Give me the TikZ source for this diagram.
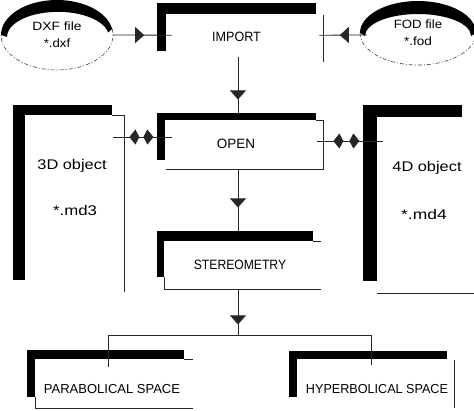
\documentclass[tikz,border=0pt]{standalone}
\usepackage{fontspec}
\setmainfont{Liberation Sans}
\usetikzlibrary{arrows.meta,decorations.markings,shapes.geometric,calc}
\begin{document}
\begin{tikzpicture}[x=1pt,y=-1pt,
  thinln/.style={line width=0.8pt, black!85},
  frame/.style={rectangle, draw=none, inner sep=0pt, anchor=north west},
  lbl/.style={inner sep=0pt, font=\fontsize{13.5}{15}\selectfont},
  splbl/.style={inner sep=0pt, font=\fontsize{13}{15}\selectfont},
  objlbl/.style={inner sep=0pt, font=\fontsize{14}{16}\selectfont},
  elli/.style={ellipse, draw=none, inner sep=0pt, align=center, font=\fontsize{12}{17}\selectfont},
  dashln/.style={line width=0.6pt, black!75, dash pattern=on 4pt off 2pt on 1pt off 2pt},
  >={Triangle[length=9pt,width=16pt]},
  fwd/.style={postaction={decorate}, decoration={markings, mark=at position #1 with {\arrow{>}}}},
  both/.style 2 args={postaction={decorate}, decoration={markings,
      mark=at position #1 with {\arrowreversed{Kite[length=10pt,width=15pt,inset=4pt]}},
      mark=at position #2 with {\arrow{Kite[length=10pt,width=15pt,inset=4pt]}}}}
]
\useasboundingbox (0,0) rectangle (474,410);
\clip (0,0) rectangle (474,410);
\fill[white] (0,0) rectangle (474,410);

% ---- ellipses
\node[elli, minimum width=112pt, minimum height=70pt] (dxf) at (57,35)
  {\scalebox{1.15}[1]{DXF file}\\\scalebox{1.1}[1]{*.dxf}};
\fill (1,35) arc[start angle=180,end angle=350,x radius=56,y radius=35]
  -- (108.2,32.5) arc[start angle=350,end angle=180,x radius=51,y radius=25] -- cycle;
\draw[dashln] (112.15,28.9) arc[start angle=-10,end angle=180,x radius=56,y radius=35];

\node[elli, minimum width=116pt, minimum height=64pt] (fod) at (418,33)
  {\scalebox{1.1}[1]{FOD file}\\\scalebox{1.13}[1]{*.fod}};
\fill (360,33) arc[start angle=180,end angle=360,x radius=58,y radius=32]
  -- (471,36) arc[start angle=360,end angle=180,x radius=53,y radius=22] -- cycle;
\draw[dashln] (360,33) arc[start angle=180,end angle=0,x radius=58,y radius=32];

% ---- IMPORT
\node[frame, minimum width=157pt, minimum height=48pt] (import) at (166,14) {};
\fill (157,3) rectangle (316,14);
\fill (157,3) rectangle (166,51);
\draw[thinln] (323,15) -- (323,62);
\node[lbl] (importlbl) at (236.5,37) {\scalebox{0.93}[1]{IMPORT}};

% ---- OPEN
\node[frame, minimum width=157pt, minimum height=49pt] (open) at (166,120) {};
\fill (157,113) rectangle (316,120);
\fill (157,113) rectangle (165,160);
\draw[thinln] (316,120) -- (323,120) -- (323,169) -- (166,169);
\node[lbl] (openlbl) at (236,144) {OPEN};

% ---- STEREOMETRY
\node[frame, minimum width=157pt, minimum height=48pt] (stereo) at (164,241) {};
\fill (157,231) rectangle (313,241);
\fill (157,231) rectangle (164,277);
\draw[thinln] (313,241) -- (321,241);
\draw[thinln] (164,277) -- (164,289) -- (321,289);
\node[lbl] (stereolbl) at (240,265) {\scalebox{0.9}[1]{STEREOMETRY}};

% ---- 3D object
\node[frame, minimum width=99pt, minimum height=177pt] (obj3) at (25,115) {};
\fill (13,105) rectangle (112,115);
\fill (13,105) rectangle (25,280);
\draw[thinln] (112,115) -- (124,115) -- (124,292);
\node[objlbl] (obj3a) at (72,166) {\scalebox{1.17}[1]{3D object}};
\node[objlbl] (obj3b) at (75,210) {\scalebox{1.2}[1]{*.md3}};

% ---- 4D object
\node[frame, minimum width=97pt, minimum height=176pt] (obj4) at (377,117) {};
\fill (363,105) rectangle (462,117);
\fill (363,105) rectangle (377,281);
\draw[thinln] (377,293) -- (474,293);
\node[objlbl] (obj4a) at (427,168) {\scalebox{1.17}[1]{4D object}};
\node[objlbl] (obj4b) at (424,214) {\scalebox{1.25}[1]{*.md4}};

% ---- PARABOLICAL SPACE
\node[frame, minimum width=158pt, minimum height=49pt] (parab) at (35,359) {};
\fill (27,350) rectangle (184,359);
\fill (27,350) rectangle (35,397);
\draw[thinln] (184,359) -- (193,359);
\draw[thinln] (35,397) -- (35,408) -- (193,408);
\node[splbl] (parablbl) at (112,389) {PARABOLICAL SPACE};

% ---- HYPERBOLICAL SPACE
\node[frame, minimum width=157pt, minimum height=49pt] (hyper) at (297,359) {};
\fill (289,351) rectangle (447,359);
\fill (289,351) rectangle (297,397);
\draw[thinln] (454,360) -- (454,408);
\node[splbl] (hyperlbl) at (377,389) {\scalebox{0.97}[1]{HYPERBOLICAL SPACE}};

% ---- connectors
\coordinate (spine) at (238,0);
\coordinate (split) at (238,335);
\draw[thinln, fwd=31pt] (dxf.east) -- ($(import.west)+(6,-3)$);
\draw[thinln, fwd=27pt] ($(fod.west)+(7,2)$) -- ($(import.east)+(-4,-3)$);
\draw[thinln, fwd=42pt] ($(import.south -| spine)+(0,-5)$) -- ($(open.north -| spine)+(0,-7)$);
\draw[thinln, fwd=38pt] (open.south -| spine) -- ($(stereo.north -| spine)+(0,-10)$);
\draw[thinln, fwd=35pt] (stereo.south -| spine) -- (split);
\draw[thinln] (split) -| ($(parab.north west)+(73,8)$);
\draw[thinln] (split) -| ($(hyper.north west)+(74,6)$);
\draw[thinln, both={16pt}{40pt}] ($(obj3.north east)+(-11,22)$) -- ($(open.north west)+(6,17)$);
\draw[thinln, both={16pt}{42pt}] ($(open.north east)+(-6,21)$) -- ($(obj4.north west)+(6,24)$);
\end{tikzpicture}
\end{document}
